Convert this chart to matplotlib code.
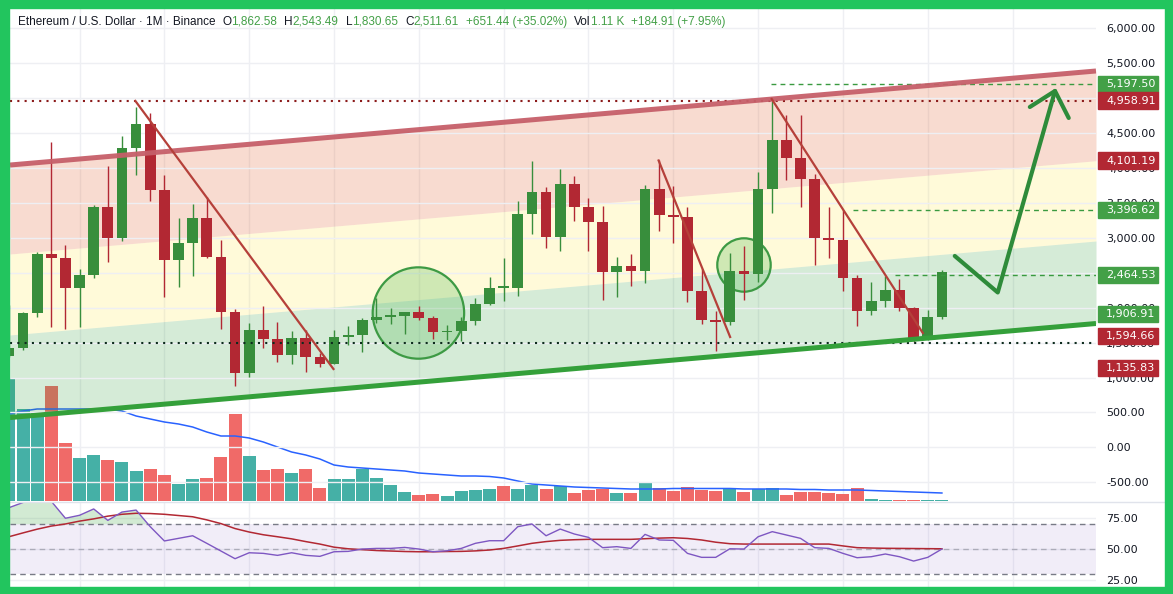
import numpy as np
import matplotlib.pyplot as plt
import matplotlib.transforms as mtransforms
from matplotlib.patches import Ellipse, Rectangle
from matplotlib.lines import Line2D
from matplotlib.ticker import FuncFormatter

W, H = 1173, 594

# monthly candles, Feb 2021 .. Aug 2026
opens = [1314, 1416, 1918, 2773, 2706, 2275, 2462, 3433, 3001, 4288,
         4631, 3676, 2688, 2922, 3282, 2727, 1942, 1071, 1679, 1553,
         1328, 1572, 1295, 1196, 1585, 1605, 1822, 1869, 1874, 1934,
         1855, 1645, 1671, 1815, 2052, 2282, 2283, 3340, 3647, 3015,
         3763, 3433, 3232, 2513, 2602, 2518, 3703, 3332, 3300, 2237,
         1822, 1793, 2528, 2486, 3697, 4391, 4145, 3847, 2990, 2967,
         2430, 1950, 2090, 2250, 2000, 1550, 1862.58]
highs = [2041, 1943, 2797, 4372, 2891, 2551, 3466, 4027, 4460, 4868,
         4778, 3900, 3283, 3482, 3580, 2965, 1979, 1785, 2030, 1789,
         1663, 1677, 1352, 1680, 1743, 1857, 2142, 2000, 1930, 2029,
         1875, 1750, 1865, 2136, 2445, 2717, 3522, 4093, 3730, 3977,
         3887, 3563, 3450, 2728, 2769, 3747, 4107, 3744, 3444, 2550,
         1957, 2788, 2880, 3941, 4959, 4760, 4755, 3910, 3440, 3390,
         2465, 2365, 2450, 2410, 2010, 1966, 2543.49]
lows = [1293, 1400, 1871, 1728, 1700, 1718, 2420, 2651, 2950, 3900,
        3524, 2159, 2300, 2450, 2712, 1700, 881, 1007, 1422, 1220,
        1190, 1073, 1150, 1190, 1461, 1368, 1785, 1760, 1626, 1825,
        1550, 1531, 1521, 1751, 2037, 2100, 2163, 3056, 2852, 2817,
        3240, 2811, 2111, 2150, 2310, 2357, 3099, 2920, 2076, 1760,
        1385, 1752, 2111, 2373, 3355, 3825, 3440, 2610, 2710, 2235,
        1737, 1895, 2005, 1950, 1510, 1540, 1830.65]
closes = [1416, 1918, 2773, 2706, 2275, 2462, 3433, 3001, 4288, 4631,
          3676, 2688, 2922, 3282, 2727, 1942, 1071, 1679, 1553, 1328,
          1572, 1295, 1196, 1585, 1605, 1822, 1869, 1874, 1934, 1855,
          1645, 1671, 1815, 2052, 2282, 2283, 3340, 3647, 3015, 3763,
          3433, 3232, 2513, 2602, 2518, 3703, 3332, 3300, 2237, 1822,
          1793, 2528, 2486, 3697, 4391, 4145, 3847, 2990, 2967, 2430,
          1950, 2090, 2250, 2000, 1545, 1862, 2511.61]

# volume (K) and its moving average
volume = [123, 92, 89, 115, 58, 43, 46, 41, 39, 30,
          32, 26, 17, 22, 23, 44, 87, 45, 31, 32,
          28, 32, 13, 22, 22, 32, 23, 16, 9, 6,
          7, 5, 10, 11, 12, 15, 12, 16, 12, 15,
          8, 11, 12, 8, 8, 18, 13, 10, 14, 11,
          10, 12, 9, 12, 13, 6, 9, 9, 8, 7,
          13, 2, 1, 1, 1, 1, 1.11]
vol_ma = [87, 90, 92, 92, 92, 92, 92, 92, 90, 85,
          82, 79, 77, 74, 69, 65, 65, 63, 59, 54,
          49, 46, 42, 36, 34, 33, 32, 31, 30, 28,
          27, 26, 25, 25, 24.5, 23, 20, 17, 16, 15,
          14, 13.5, 13, 12.5, 12, 12, 12, 12.5, 12.5, 12.5,
          12.5, 12.5, 12, 12, 12, 12, 11.5, 11.5, 11, 11,
          11, 10.5, 10, 9.5, 9, 8.5, 8]

rsi = [83.3, 87.5, 93, 88.5, 74.8, 77.2, 82.3, 73.1, 79.8, 81.4,
       68, 56.5, 58.6, 60.7, 54.6, 48.4, 42.2, 47, 46.5, 44.9,
       47, 44.9, 44.1, 47.8, 48.1, 50, 50.5, 50.5, 51.3, 50,
       47.8, 48.6, 50.5, 54.6, 56.7, 56.7, 68, 70.2, 60.7, 66.1,
       62.1, 59.4, 51.1, 51.9, 50.5, 61.8, 57.3, 57, 46.5, 43.3,
       43.3, 50.2, 50, 59.9, 64, 61.3, 58.6, 51.1, 50.5, 46.5,
       43, 43.8, 46, 43.8, 40.3, 43.3, 50]
rsi_ma = [59.9, 63, 66, 68.5, 70.2, 72.5, 74.3, 76.5, 78, 78.8,
          78.6, 78, 77, 76, 73.5, 70.5, 66.5, 63.7, 61.5, 59.9,
          58.2, 56, 54, 51.5, 50.2, 49.5, 48.8, 48.4, 48, 47.8,
          47.8, 48, 48.1, 48.5, 49.2, 50.5, 52.5, 54.6, 56, 57,
          57.5, 57.8, 57.8, 57.8, 57.8, 58.3, 58.8, 59.1, 58.5, 57.3,
          55.5, 54.3, 54, 54, 54, 54, 54, 54, 54, 52.5,
          51.1, 50.8, 50.6, 50.5, 50.4, 50.3, 50.2]

# drawings (bar index, price)
chan_x = [0.08, 76.9]
chan_top = [4040, 5385]
chan_b1 = [2767, 4101.19]
chan_b2 = [1609, 2953]
chan_bot = [428, 1773]
trend1 = ([8.95, 22.96], [4956, 1122])
trend2 = ([45.96, 51.02], [4105, 1580])
trend3 = ([53.96, 64.65], [4984, 1637])
arrow_x = [66.91, 69.95, 74.0]
arrow_y = [2739, 2217, 5099]
head_x = [72.22, 74.0, 74.97]
head_y = [4870, 5099, 4713]
circles = [(28.97, 1923, 6.47, 1307), (52.0, 2610, 3.78, 764)]
dashed = [(5197.50, 53.9), (3396.62, 59.7), (2464.53, 62.7)]
price_tags = [(5197.50, 'g'), (4958.91, 'r'), (4101.19, 'r'), (3396.62, 'g'),
              (2464.53, 'g'), (1906.91, 'g'), (1594.66, 'r'), (1135.83, 'r')]

GREEN = '#388e3c'
RED = '#b22833'
TEAL = '#45b0a6'
SALMON = '#f06a68'
TXT = '#131722'
HDR_GREEN = '#43a047'

opens = np.array(opens); closes = np.array(closes)
highs = np.array(highs); lows = np.array(lows)
idx = np.arange(len(opens))
up = closes >= opens
vol_up = up.copy()
vol_up[35] = False

fig = plt.figure(figsize=(W / 100, H / 100), dpi=100)
fig.patch.set_facecolor('white')

main_rect = [10 / W, (H - 501) / H, 1086 / W, 493 / H]
axv = fig.add_axes(main_rect)
ax = fig.add_axes(main_rect)
ax.patch.set_visible(False)
axr = fig.add_axes([10 / W, (H - 587) / H, 1086 / W, 85 / H])

for a in (axv, ax, axr):
    for s in a.spines.values():
        s.set_visible(False)
    a.set_xlim(chan_x[0], chan_x[1])

# volume
axv.set_ylim(0, 493)
axv.bar(idx, volume, width=0.92, color=[TEAL if u else SALMON for u in vol_up], zorder=2)
axv.plot(idx, vol_ma, color='#2962ff', lw=1.1, zorder=3)
axv.set_xticks(range(5, 77, 6))
axv.grid(axis='x', color='#eeeff3', lw=1)
axv.set_axisbelow(True)
axv.tick_params(left=False, bottom=False, labelleft=False, labelbottom=False)

# price pane
ax.set_ylim(-766, 6286)
ax.set_yticks(np.arange(-500, 6001, 500))
ax.yaxis.tick_right()
ax.yaxis.set_major_formatter(FuncFormatter(lambda v, p: f'{v:,.2f}'))
ax.tick_params(axis='y', length=0, pad=7.2, labelsize=8, labelcolor=TXT)
ax.tick_params(axis='x', length=0, labelbottom=False)
ax.set_xticks([])
ax.grid(axis='y', color='#eeeff3', lw=1, zorder=0)

ax.fill_between(chan_x, chan_top, chan_b1, color=(0.88, 0.31, 0.08), alpha=0.2, lw=0, zorder=1)
ax.fill_between(chan_x, chan_b1, chan_b2, color=(1.0, 0.9, 0.27), alpha=0.2, lw=0, zorder=1)
ax.fill_between(chan_x, chan_b2, chan_bot, color=(0.18, 0.61, 0.22), alpha=0.2, lw=0, zorder=1)

for cx, cy, w, h in circles:
    ax.add_patch(Ellipse((cx, cy), w, h, facecolor=(0.33, 0.73, 0.33, 0.28),
                         edgecolor='#3d9a44', lw=1.6, zorder=2))

# candles
body_lo = np.minimum(opens, closes)
body_h = np.maximum(np.abs(closes - opens), 25)
ccol = np.where(up, GREEN, RED)
ax.vlines(idx, lows, highs, colors=ccol, lw=1.0, zorder=3)
ax.bar(idx, body_h, bottom=body_lo, width=0.76, color=ccol, zorder=4)

# levels
ax.axhline(4958.91, color='#8b1a1a', lw=1.5, ls=(0, (1, 2.5)), zorder=5)
ax.axhline(1500, color='#0d2b1d', lw=1.5, ls=(0, (1, 2.5)), zorder=5)
for lvl, x0 in dashed:
    ax.plot([x0, chan_x[1]], [lvl, lvl], color='#3a9a40', lw=1, ls=(0, (3.5, 3)), zorder=5)

ax.plot(chan_x, chan_top, color='#c65f69', lw=3.6, alpha=0.95, zorder=5, solid_capstyle='butt')
ax.plot(chan_x, chan_bot, color='#34a03a', lw=3.6, zorder=5, solid_capstyle='butt')
for tx, ty in (trend1, trend2, trend3):
    ax.plot(tx, ty, color='#b5403a', lw=1.6, zorder=6)
ax.plot(arrow_x, arrow_y, color='#2e8b3a', lw=3, zorder=6,
        solid_capstyle='round', solid_joinstyle='round')
ax.plot(head_x, head_y, color='#2e8b3a', lw=3, zorder=6,
        solid_capstyle='round', solid_joinstyle='round')

# price tags on the axis
blend = mtransforms.blended_transform_factory(ax.transAxes, ax.transData)
for val, c in price_tags:
    ax.add_patch(Rectangle((1 + 2 / 1086, val - 119), 60 / 1086, 238, transform=blend,
                           color=HDR_GREEN if c == 'g' else RED, clip_on=False, zorder=10))
    ax.text(1 + 10 / 1086, val, f'{val:,.2f}', transform=blend, color='white',
            fontsize=8, va='center', ha='left', zorder=11, clip_on=False)

# RSI pane
axr.set_ylim(19.4, 87.9)
axr.axhspan(30, 70, color=(126 / 255, 87 / 255, 194 / 255), alpha=0.1, lw=0)
axr.axhline(70, color='#787b86', lw=1, ls=(0, (4, 3)))
axr.axhline(30, color='#787b86', lw=1, ls=(0, (4, 3)))
axr.axhline(50, color='#787b86', lw=1, ls=(0, (4, 3)), alpha=0.5)
rsi_a = np.array(rsi)
axr.fill_between(idx, rsi_a, 70, where=rsi_a >= 70, interpolate=True,
                 color='#4caf50', alpha=0.25, lw=0)
axr.plot(idx, rsi_ma, color='#b22833', lw=1.1)
axr.plot(idx, rsi, color='#7e57c2', lw=1.0)
axr.set_yticks([25, 50, 75])
axr.set_xticks(range(5, 77, 6))
axr.yaxis.tick_right()
axr.yaxis.set_major_formatter(FuncFormatter(lambda v, p: f'{v:.2f}'))
axr.tick_params(axis='y', length=0, pad=7.2, labelsize=8, labelcolor=TXT)
axr.tick_params(axis='x', length=0, labelbottom=False)
axr.grid(color='#eeeff3', lw=1)
axr.set_axisbelow(True)

# separator and border
fig.add_artist(Line2D([10 / W, 1165 / W], [(H - 501.5) / H] * 2, color='#e0e3eb', lw=1))
for x0, y0, w, h in [(0, 0, 9, H), (1165, 0, 8, H), (0, 0, W, 8), (0, 587, W, 7)]:
    fig.add_artist(Rectangle((x0 / W, (H - y0 - h) / H), w / W, h / H,
                             transform=fig.transFigure, color='#22c55e', zorder=100))

# header legend, groups laid out one after another
rend = fig.canvas.get_renderer()
groups = [
    [('Ethereum / U.S. Dollar · 1M · Binance', TXT)],
    [('O', TXT), ('1,862.58', HDR_GREEN)],
    [('H', TXT), ('2,543.49', HDR_GREEN)],
    [('L', TXT), ('1,830.65', HDR_GREEN)],
    [('C', TXT), ('2,511.61', HDR_GREEN)],
    [('+651.44 (+35.02%)', HDR_GREEN)],
    [('Vol', TXT), ('1.11 K', HDR_GREEN)],
    [('+184.91 (+7.95%)', HDR_GREEN)],
]
x = 18
for pieces in groups:
    for s, c in pieces:
        t = fig.text(x / W, (H - 22) / H, s, color=c, fontsize=8.5, va='center', ha='left',
                     family='Liberation Sans')
        x += t.get_window_extent(renderer=rend).width
    x += 7

fig.savefig('out.png', dpi=100)
